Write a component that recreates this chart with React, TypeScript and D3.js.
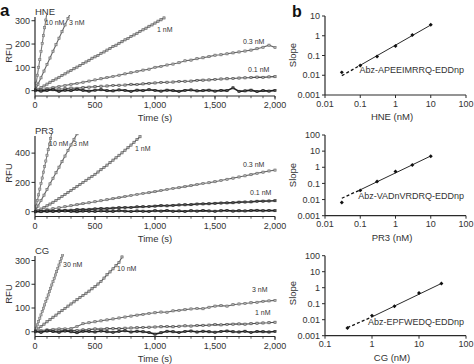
import React from "react";
import * as d3 from "d3";

const W = 474;
const H = 364;
const FONT = "'Liberation Sans', Arial, Helvetica, sans-serif";
const INK = "#2a2a2a";

// ---------- panel a : progress curves (RFU vs time) ----------
const timeTicks = [0, 500, 1000, 1500, 2000];
const timeMinorTicks = d3.range(0, 2001, 100);

// HNE
const hne10nM = [0, 32, 66, 100, 133, 168, 202, 236, 270, 303, 336]; // step 10 s
const hne3nM = [0, 27, 55, 84, 112, 140, 169, 197, 225, 253, 282, 310, 338]; // step 25 s
const hne1nM = [1, 6, 13, 20, 28, 36, 43, 50, 57, 65, 72, 80, 86, 94, 101, 108, 116, 123, 130, 139, 145, 151, 160, 166, 174, 181, 189, 195, 203, 210, 218, 224, 232, 239, 246, 254, 261, 268, 276, 282, 290, 298, 304, 312]; // step 25 s
const hne03nM = [0, 4, 9, 13, 18, 22, 27, 31, 36, 41, 46, 51, 56, 61, 66, 72, 77, 82, 88, 92, 100, 104, 110, 114, 120, 128, 131, 137, 141, 146, 152, 154, 158, 162, 166, 170, 174, 180, 186, 195, 185]; // step 50 s
const hne01nM = [0, 2, 3, 6, 7, 8, 11, 10, 13, 15, 17, 19, 20, 22, 23, 24, 27, 26, 29, 31, 33, 35, 36, 37, 39, 40, 41, 44, 45, 46, 48, 50, 51, 52, 54, 55, 56, 58, 57, 59, 60]; // step 50 s
const hneBlank = [3, -2, 1, 4, -3, 2, 0, 5, 1, -2, 2, 4, 0, -1, 3, 1, -3, 2, 0, 4, 1, -2, 2, 0, -3, 1, 3, -1, 0, 2, -2, 1, 0, 12, -3, -1, 2, -4, 0, -2, 1]; // step 50 s

// PR3
const pr10nM = [0, 38, 76, 115, 154, 192, 230, 270, 308, 346, 385, 424, 462, 500, 540]; // step 10 s
const pr3nM = [0, 38, 76, 113, 152, 190, 228, 266, 304, 342, 380, 418, 456, 494, 532]; // step 25 s
const pr1nM = [0, 8, 18, 28, 40, 52, 64, 77, 90, 103, 117, 131, 145, 158, 172, 186, 200, 214, 228, 241, 255, 271, 287, 302, 318, 335, 352, 368, 385, 402, 420, 437, 455, 474, 493, 512]; // step 25 s
const pr03nM = [0, 6, 13, 20, 27, 34, 41, 48, 55, 61, 68, 75, 82, 89, 96, 103, 110, 117, 124, 130, 137, 144, 151, 158, 164, 171, 178, 185, 192, 198, 205, 213, 221, 229, 237, 245, 253, 262, 270, 278, 284]; // step 50 s
const pr01nM = [0, 3, 4, 5, 8, 9, 10, 14, 15, 16, 19, 22, 21, 24, 27, 28, 29, 33, 34, 35, 38, 41, 40, 43, 46, 47, 48, 52, 53, 54, 57, 59, 60, 61, 65, 66, 67, 71, 72, 73, 75]; // step 50 s
const prBlank = [2, 0, 4, 1, 3, 5, 2, 0, 4, 3, 1, 5, 3, 2, 6, 4, 1, 5, 3, 2, 6, 4, 7, 3, 5, 2, 6, 4, 7, 5, 3, 6, 8, 4, 6, 5, 7, 9, 6, 8, 7]; // step 50 s

// CG
const cg30nM = [0, 15, 29, 43, 57, 71, 85, 99, 113, 127, 141, 155, 169, 183, 197, 211, 225, 239, 253, 267, 281, 295, 309, 323]; // step 10 s
const cg10nM = [3, 12, 22, 32, 42, 51, 61, 70, 80, 89, 98, 108, 117, 126, 135, 144, 153, 162, 171, 181, 190, 201, 212, 226, 240, 252, 265, 278, 292, 315]; // step 25 s
const cg3nM = [2, 5, 8, 10, 12, 12, 14, 22, 34, 38, 42, 46, 50, 54, 58, 62, 66, 70, 73, 77, 80, 83, 82, 88, 90, 93, 96, 98, 97, 103, 108, 110, 108, 114, 117, 119, 122, 124, 128, 130, 132]; // step 50 s
const cg1nM = [0, 1, 3, 2, 4, 5, 6, 5, 8, 9, 12, 11, 13, 14, 13, 15, 16, 17, 18, 19, 20, 21, 22, 21, 23, 25, 24, 26, 27, 28, 30, 29, 31, 32, 33, 32, 34, 36, 37, 38, 40]; // step 50 s
const cgBlank = [2, -3, 4, 1, -2, 3, 0, -4, 2, 1, -1, 3, 0, -2, 1, 4, -1, 2, 0, -3, -10, -4, 2, 0, -3, 1, 3, -1, 2, 0, -2, 1, 3, 0, -1, 2, -3, 1, 0, -1, 1]; // step 50 s

// ---------- panel b : slope vs enzyme concentration ----------
const hneConc = [0.03, 0.1, 0.3, 1, 3, 10];
const hneSlope = [0.014, 0.031, 0.09, 0.3, 1.1, 3.6];
const hneFitConc = [0.03, 0.1, 10];
const hneFitSlope = [0.0095, 0.032, 3.5];

const pr3Conc = [0.03, 0.1, 0.3, 1, 3, 10];
const pr3Slope = [0.0065, 0.037, 0.13, 0.55, 1.4, 4.8];
const pr3FitConc = [0.03, 0.1, 10];
const pr3FitSlope = [0.012, 0.04, 5.0];

const cgConc = [0.3, 1, 3, 10, 30];
const cgSlope = [0.003, 0.018, 0.07, 0.47, 1.85];
const cgFitConc = [0.3, 1, 30];
const cgFitSlope = [0.0032, 0.015, 1.85];

type Trace = { step: number; values: number[]; color: string; dark?: boolean };
type Label = { text: string; x: number; y: number };
type KPanel = {
  id: string;
  title: string;
  top: number;
  bottom: number;
  yDomain: [number, number];
  yTicks: number[];
  traces: Trace[];
  labels: Label[];
  rfuY: number;
};

const A_X0 = 35;
const A_X1 = 275;

const kPanels: KPanel[] = [
  {
    id: "hne",
    title: "HNE",
    top: 17,
    bottom: 96,
    yDomain: [-23, 316],
    yTicks: [0, 100, 200, 300],
    rfuY: 53,
    traces: [
      { step: 50, values: hne03nM, color: "#666" },
      { step: 25, values: hne1nM, color: "#5a5a5a" },
      { step: 25, values: hne3nM, color: "#666" },
      { step: 10, values: hne10nM, color: "#777" },
      { step: 50, values: hne01nM, color: "#4a4a4a" },
      { step: 50, values: hneBlank, color: "#1e1e1e", dark: true },
    ],
    labels: [
      { text: "10 nM", x: 45, y: 25 },
      { text: "3 nM", x: 69, y: 25 },
      { text: "1 nM", x: 157, y: 32 },
      { text: "0.3 nM", x: 243, y: 44 },
      { text: "0.1 nM", x: 248, y: 72 },
    ],
  },
  {
    id: "pr3",
    title: "PR3",
    top: 136,
    bottom: 216.5,
    yDomain: [-33, 517],
    yTicks: [0, 200, 400],
    rfuY: 173,
    traces: [
      { step: 50, values: pr03nM, color: "#666" },
      { step: 25, values: pr1nM, color: "#5a5a5a" },
      { step: 25, values: pr3nM, color: "#666" },
      { step: 10, values: pr10nM, color: "#777" },
      { step: 50, values: pr01nM, color: "#2e2e2e", dark: true },
      { step: 50, values: prBlank, color: "#1e1e1e", dark: true },
    ],
    labels: [
      { text: "10 nM", x: 49, y: 146 },
      { text: "3 nM", x: 73, y: 146 },
      { text: "1 nM", x: 135, y: 151 },
      { text: "0.3 nM", x: 243, y: 167 },
      { text: "0.1 nM", x: 250, y: 195 },
    ],
  },
  {
    id: "cg",
    title: "CG",
    top: 256,
    bottom: 336.5,
    yDomain: [-20, 319],
    yTicks: [0, 100, 200, 300],
    rfuY: 294,
    traces: [
      { step: 50, values: cg3nM, color: "#666" },
      { step: 25, values: cg10nM, color: "#5a5a5a" },
      { step: 10, values: cg30nM, color: "#777" },
      { step: 50, values: cg1nM, color: "#4a4a4a" },
      { step: 50, values: cgBlank, color: "#1e1e1e", dark: true },
    ],
    labels: [
      { text: "30 nM", x: 63, y: 267 },
      { text: "10 nM", x: 117, y: 271 },
      { text: "3 nM", x: 252, y: 292 },
      { text: "1 nM", x: 255, y: 315 },
    ],
  },
];

type LPanel = {
  id: string;
  xLabel: string;
  peptide: string;
  xDomain: [number, number];
  xTickVals: number[];
  xTickText: string[];
  yDomain: [number, number];
  yTickVals: number[];
  yTickText: string[];
  top: number;
  bottom: number;
  conc: number[];
  slope: number[];
  fitConc: number[];
  fitSlope: number[];
  slopeY: number;
  pepY: number;
};

const B_X0 = 325;
const B_X1 = 466;

const lPanels: LPanel[] = [
  {
    id: "hneb",
    xLabel: "HNE (nM)",
    peptide: "Abz-APEEIMRRQ-EDDnp",
    xDomain: [0.01, 100],
    xTickVals: [0.01, 0.1, 1, 10, 100],
    xTickText: ["0.01", "0.1", "1", "10", "100"],
    yDomain: [0.001, 10],
    yTickVals: [0.001, 0.01, 0.1, 1, 10],
    yTickText: ["0.001", "0.01", "0.1", "1", "10"],
    top: 16,
    bottom: 95,
    conc: hneConc,
    slope: hneSlope,
    fitConc: hneFitConc,
    fitSlope: hneFitSlope,
    slopeY: 55,
    pepY: 73,
  },
  {
    id: "pr3b",
    xLabel: "PR3 (nM)",
    peptide: "Abz-VADnVRDRQ-EDDnp",
    xDomain: [0.01, 100],
    xTickVals: [0.01, 0.1, 1, 10, 100],
    xTickText: ["0.01", "0.1", "1", "10", "100"],
    yDomain: [0.001, 100],
    yTickVals: [0.001, 0.01, 0.1, 1, 10, 100],
    yTickText: ["0.001", "0.01", "0.1", "1", "10", "100"],
    top: 135,
    bottom: 215.7,
    conc: pr3Conc,
    slope: pr3Slope,
    fitConc: pr3FitConc,
    fitSlope: pr3FitSlope,
    slopeY: 175,
    pepY: 199,
  },
  {
    id: "cgb",
    xLabel: "CG (nM)",
    peptide: "Abz-EPFWEDQ-EDDnp",
    xDomain: [0.1, 100],
    xTickVals: [0.1, 1, 10, 100],
    xTickText: ["0.1", "1", "10", "100"],
    yDomain: [0.001, 100],
    yTickVals: [0.001, 0.01, 0.1, 1, 10, 100],
    yTickText: ["0.001", "0.01", "0.1", "1", "10", "100"],
    top: 255.7,
    bottom: 335.7,
    conc: cgConc,
    slope: cgSlope,
    fitConc: cgFitConc,
    fitSlope: cgFitSlope,
    slopeY: 293,
    pepY: 325,
  },
];

const fmtTime = d3.format(",");

function KineticPanel({ p }: { p: KPanel }) {
  const x = d3.scaleLinear().domain([0, 2000]).range([A_X0, A_X1]);
  const y = d3.scaleLinear().domain(p.yDomain).range([p.bottom, p.top]);
  const clipId = "clip-" + p.id;
  return (
    <g>
      <defs>
        <clipPath id={clipId}>
          <rect x={A_X0 - 1} y={p.top - 2} width={A_X1 - A_X0 + 4} height={p.bottom - p.top + 2} />
        </clipPath>
      </defs>
      <g clipPath={`url(#${clipId})`}>
        {p.traces.map((tr, k) => {
          const line = d3
            .line<number>()
            .x((_, i) => x(i * tr.step))
            .y((d) => y(d));
          return (
            <g key={k}>
              <path
                d={line(tr.values) || ""}
                fill="none"
                stroke={tr.color}
                strokeWidth={tr.dark ? 1.6 : 1.1}
              />
              {tr.values.map((v, i) => (
                <rect
                  key={i}
                  x={x(i * tr.step) - 1.1}
                  y={y(v) - 1.1}
                  width={2.2}
                  height={2.2}
                  fill={tr.dark ? "#555" : "#bdbdbd"}
                  stroke={tr.color}
                  strokeWidth={0.6}
                />
              ))}
            </g>
          );
        })}
      </g>
      {/* axes */}
      <line x1={A_X0} x2={A_X1} y1={p.bottom} y2={p.bottom} stroke={INK} strokeWidth={1.2} />
      <line x1={A_X0} x2={A_X0} y1={p.top} y2={p.bottom} stroke={INK} strokeWidth={1.2} />
      {timeMinorTicks.map((t) => (
        <line key={"m" + t} x1={x(t)} x2={x(t)} y1={p.bottom} y2={p.bottom + 2.2} stroke={INK} strokeWidth={0.8} />
      ))}
      {timeTicks.map((t) => (
        <g key={t}>
          <line x1={x(t)} x2={x(t)} y1={p.bottom} y2={p.bottom + 3.5} stroke={INK} strokeWidth={1} />
          <text x={x(t)} y={p.bottom + 12} textAnchor="middle" fontSize={9} fill="#333" fontFamily={FONT}>
            {fmtTime(t)}
          </text>
        </g>
      ))}
      {p.yTicks.map((v) => (
        <g key={v}>
          <line x1={A_X0 - 3.5} x2={A_X0} y1={y(v)} y2={y(v)} stroke={INK} strokeWidth={1} />
          <text x={A_X0 - 5} y={y(v) + 3.2} textAnchor="end" fontSize={9} fill="#333" fontFamily={FONT}>
            {v}
          </text>
        </g>
      ))}
      <text x={(A_X0 + A_X1) / 2} y={p.bottom + 25} textAnchor="middle" fontSize={9.5} fill="#333" fontFamily={FONT}>
        Time (s)
      </text>
      <text
        transform={`translate(12, ${p.rfuY}) rotate(-90)`}
        textAnchor="middle"
        fontSize={9.5}
        fill="#333"
        fontFamily={FONT}
      >
        RFU
      </text>
      <text x={A_X0} y={p.top - 2} fontSize={9.5} fill="#333" fontFamily={FONT}>
        {p.title}
      </text>
      {p.labels.map((l, i) => (
        <text key={i} x={l.x} y={l.y} fontSize={7} fill="#333" fontFamily={FONT}>
          {l.text}
        </text>
      ))}
    </g>
  );
}

function LogPanel({ p }: { p: LPanel }) {
  const x = d3.scaleLog().domain(p.xDomain).range([B_X0, B_X1]);
  const y = d3.scaleLog().domain(p.yDomain).range([p.bottom, p.top]);
  const fitPts = p.fitConc.map((c, i) => [x(c), y(p.fitSlope[i])] as [number, number]);
  const seg = d3.line();
  return (
    <g>
      <path d={seg(fitPts.slice(0, 2)) || ""} fill="none" stroke="#111" strokeWidth={1.3} strokeDasharray="3,2.2" />
      <path d={seg(fitPts.slice(1)) || ""} fill="none" stroke="#111" strokeWidth={0.9} />
      {p.conc.map((c, i) => (
        <rect
          key={i}
          x={x(c) - 1.4}
          y={y(p.slope[i]) - 1.4}
          width={2.8}
          height={2.8}
          fill="#111"
          transform={`rotate(45, ${x(c)}, ${y(p.slope[i])})`}
        />
      ))}
      <line x1={B_X0} x2={B_X1} y1={p.bottom} y2={p.bottom} stroke={INK} strokeWidth={1.2} />
      <line x1={B_X0} x2={B_X0} y1={p.top} y2={p.bottom} stroke={INK} strokeWidth={1.2} />
      {p.xTickVals.map((v, i) => (
        <g key={v}>
          <line x1={x(v)} x2={x(v)} y1={p.bottom} y2={p.bottom + 3} stroke={INK} strokeWidth={1} />
          <text x={x(v)} y={p.bottom + 11.5} textAnchor="middle" fontSize={9} fill="#333" fontFamily={FONT}>
            {p.xTickText[i]}
          </text>
        </g>
      ))}
      {p.yTickVals.map((v, i) => (
        <g key={v}>
          <line x1={B_X0 - 3} x2={B_X0} y1={y(v)} y2={y(v)} stroke={INK} strokeWidth={1} />
          <text x={B_X0 - 5} y={y(v) + 3.2} textAnchor="end" fontSize={9} fill="#333" fontFamily={FONT}>
            {p.yTickText[i]}
          </text>
        </g>
      ))}
      <text x={392} y={p.bottom + 25} textAnchor="middle" fontSize={9.5} fill="#333" fontFamily={FONT}>
        {p.xLabel}
      </text>
      <text
        transform={`translate(296, ${p.slopeY}) rotate(-90)`}
        textAnchor="middle"
        fontSize={9.5}
        fill="#333"
        fontFamily={FONT}
      >
        Slope
      </text>
      <text x={464} y={p.pepY} textAnchor="end" fontSize={9} fill="#333" fontFamily={FONT}>
        {p.peptide}
      </text>
    </g>
  );
}

export default function App() {
  return (
    <svg
      width={W}
      height={H}
      viewBox={`0 0 ${W} ${H}`}
      style={{ position: "absolute", left: 0, top: 0, background: "#fff" }}
    >
      <rect width={W} height={H} fill="#fff" />
      <text x={0} y={16} fontSize={17} fontWeight="bold" fill="#111" fontFamily={FONT}>
        a
      </text>
      <text x={292} y={17} fontSize={16} fontWeight="bold" fill="#111" fontFamily={FONT}>
        b
      </text>
      {kPanels.map((p) => (
        <KineticPanel key={p.id} p={p} />
      ))}
      {lPanels.map((p) => (
        <LogPanel key={p.id} p={p} />
      ))}
    </svg>
  );
}
